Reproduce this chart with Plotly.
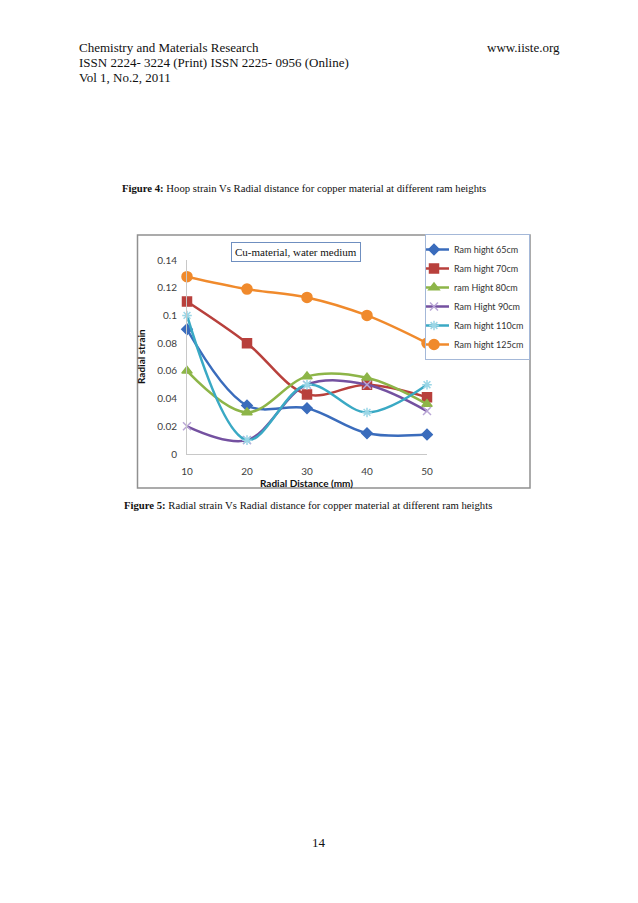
import plotly.graph_objects as go

W, H = 638, 903

# data
distance = [10, 20, 30, 40, 50]
names = ["Ram hight 65cm", "Ram hight 70cm", "ram Hight 80cm",
         "Ram Hight 90cm", "Ram hight 110cm", "Ram hight 125cm"]
h65 = [0.090, 0.035, 0.033, 0.015, 0.014]
h70 = [0.110, 0.080, 0.043, 0.050, 0.041]
h80 = [0.060, 0.030, 0.056, 0.055, 0.036]
h90 = [0.020, 0.010, 0.050, 0.050, 0.031]
h110 = [0.100, 0.010, 0.050, 0.030, 0.050]
h125 = [0.128, 0.119, 0.113, 0.100, 0.080]
y_ticks = [0, 0.02, 0.04, 0.06, 0.08, 0.1, 0.12, 0.14]
y_labels = ["0", "0.02", "0.04", "0.06", "0.08", "0.1", "0.12", "0.14"]

colors = ["#3a6cbc", "#b8403c", "#8db548", "#7451a0", "#3aa9c4", "#f08a2c"]
symbols = ["diamond", "square", "triangle-up", "x-thin-open", "asterisk-open", "circle"]
sizes = [8, 9, 9, 8, 8, 10]


def px(x, y):
    # pixel position on the page -> paper coords
    return x / W, 1 - y / H


fig = go.Figure()
for name, vals, c, s, sz in zip(names, [h65, h70, h80, h90, h110, h125], colors, symbols, sizes):
    mc = c
    if s == "x-thin-open":
        mc = "#b9a6d6"
    if s == "asterisk-open":
        mc = "#9ad6e6"
    fig.add_trace(go.Scatter(
        x=distance, y=vals, name=name, mode="lines+markers",
        line=dict(color=c, width=2.5, shape="spline", smoothing=1),
        marker=dict(symbol=s, size=sz, color=mc, line=dict(color=mc, width=1.5)),
        cliponaxis=False,
    ))

serif = "Liberation Serif"
sans = "Lato"
ann = []


def text(x, y, t, size=13, anchor="left", font=serif, **kw):
    ax, ay = px(x, y)
    ann.append(dict(x=ax, y=ay, xref="paper", yref="paper", text=t, showarrow=False,
                    xanchor=anchor, yanchor="middle",
                    font=dict(family=font, size=size, color="#111"), **kw))


text(77, 47, "Chemistry and Materials Research")
text(77, 62, "ISSN 2224- 3224 (Print) ISSN 2225- 0956 (Online)")
text(77, 77, "Vol 1, No.2, 2011")
text(562, 47, "www.iiste.org", anchor="right")
text(120, 188, "<b>Figure 4:</b> Hoop strain Vs Radial distance for copper material at different ram heights", size=10.7)
text(122, 505, "<b>Figure 5:</b> Radial strain Vs Radial distance for copper material at different ram heights", size=10.7)
text(319, 842, "14", anchor="center")

# chart title box
text(296, 252.5, "Cu-material, water medium", size=11, anchor="center",
     bordercolor="#6f8fc0", borderwidth=1, borderpad=3, bgcolor="white")
# axis titles
text(306, 483, "<b>Radial Distance (mm)</b>", size=10, anchor="center", font=sans)
text(141, 357, "<b>Radial strain</b>", size=10, anchor="center", font=sans, textangle=-90)

x0, y0 = px(137.5, 488)
x1, y1 = px(530, 235)
lx, ly = px(425, 234)

fig.update_layout(
    width=W, height=H,
    margin=dict(l=0, r=0, t=0, b=0, autoexpand=False),
    paper_bgcolor="white", plot_bgcolor="white",
    showlegend=True,
    legend=dict(x=lx, y=ly, xanchor="left", yanchor="top",
                bgcolor="white", bordercolor="#a4b8d8", borderwidth=1,
                font=dict(family=sans, size=9, color="#333"),
                itemwidth=30, tracegroupgap=0, indentation=-12),
    xaxis=dict(domain=[187 / W, 427 / W], range=[10, 50], tickvals=distance,
               showline=True, linecolor="#c8c8c8", linewidth=1, showgrid=False,
               zeroline=False, ticks="", ticklabelstandoff=8,
               tickfont=dict(family=sans, size=10, color="#404040")),
    yaxis=dict(domain=[1 - 454 / H, 1 - 260 / H], range=[0, 0.14],
               tickvals=y_ticks, ticktext=y_labels,
               showline=True, linecolor="#c8c8c8", linewidth=1, showgrid=False,
               zeroline=False, ticks="", ticklabelstandoff=7,
               tickfont=dict(family=sans, size=10, color="#404040")),
    annotations=ann,
    shapes=[dict(type="rect", xref="paper", yref="paper", x0=x0, y0=y0, x1=x1, y1=y1,
                 line=dict(color="#909090", width=1.5), layer="below")],
)

# page body has a default 8px margin; drop it so the figure sits at the corner
fig.write_html("out.html", config={"displayModeBar": False},
               post_script="document.body.style.margin='0';")
